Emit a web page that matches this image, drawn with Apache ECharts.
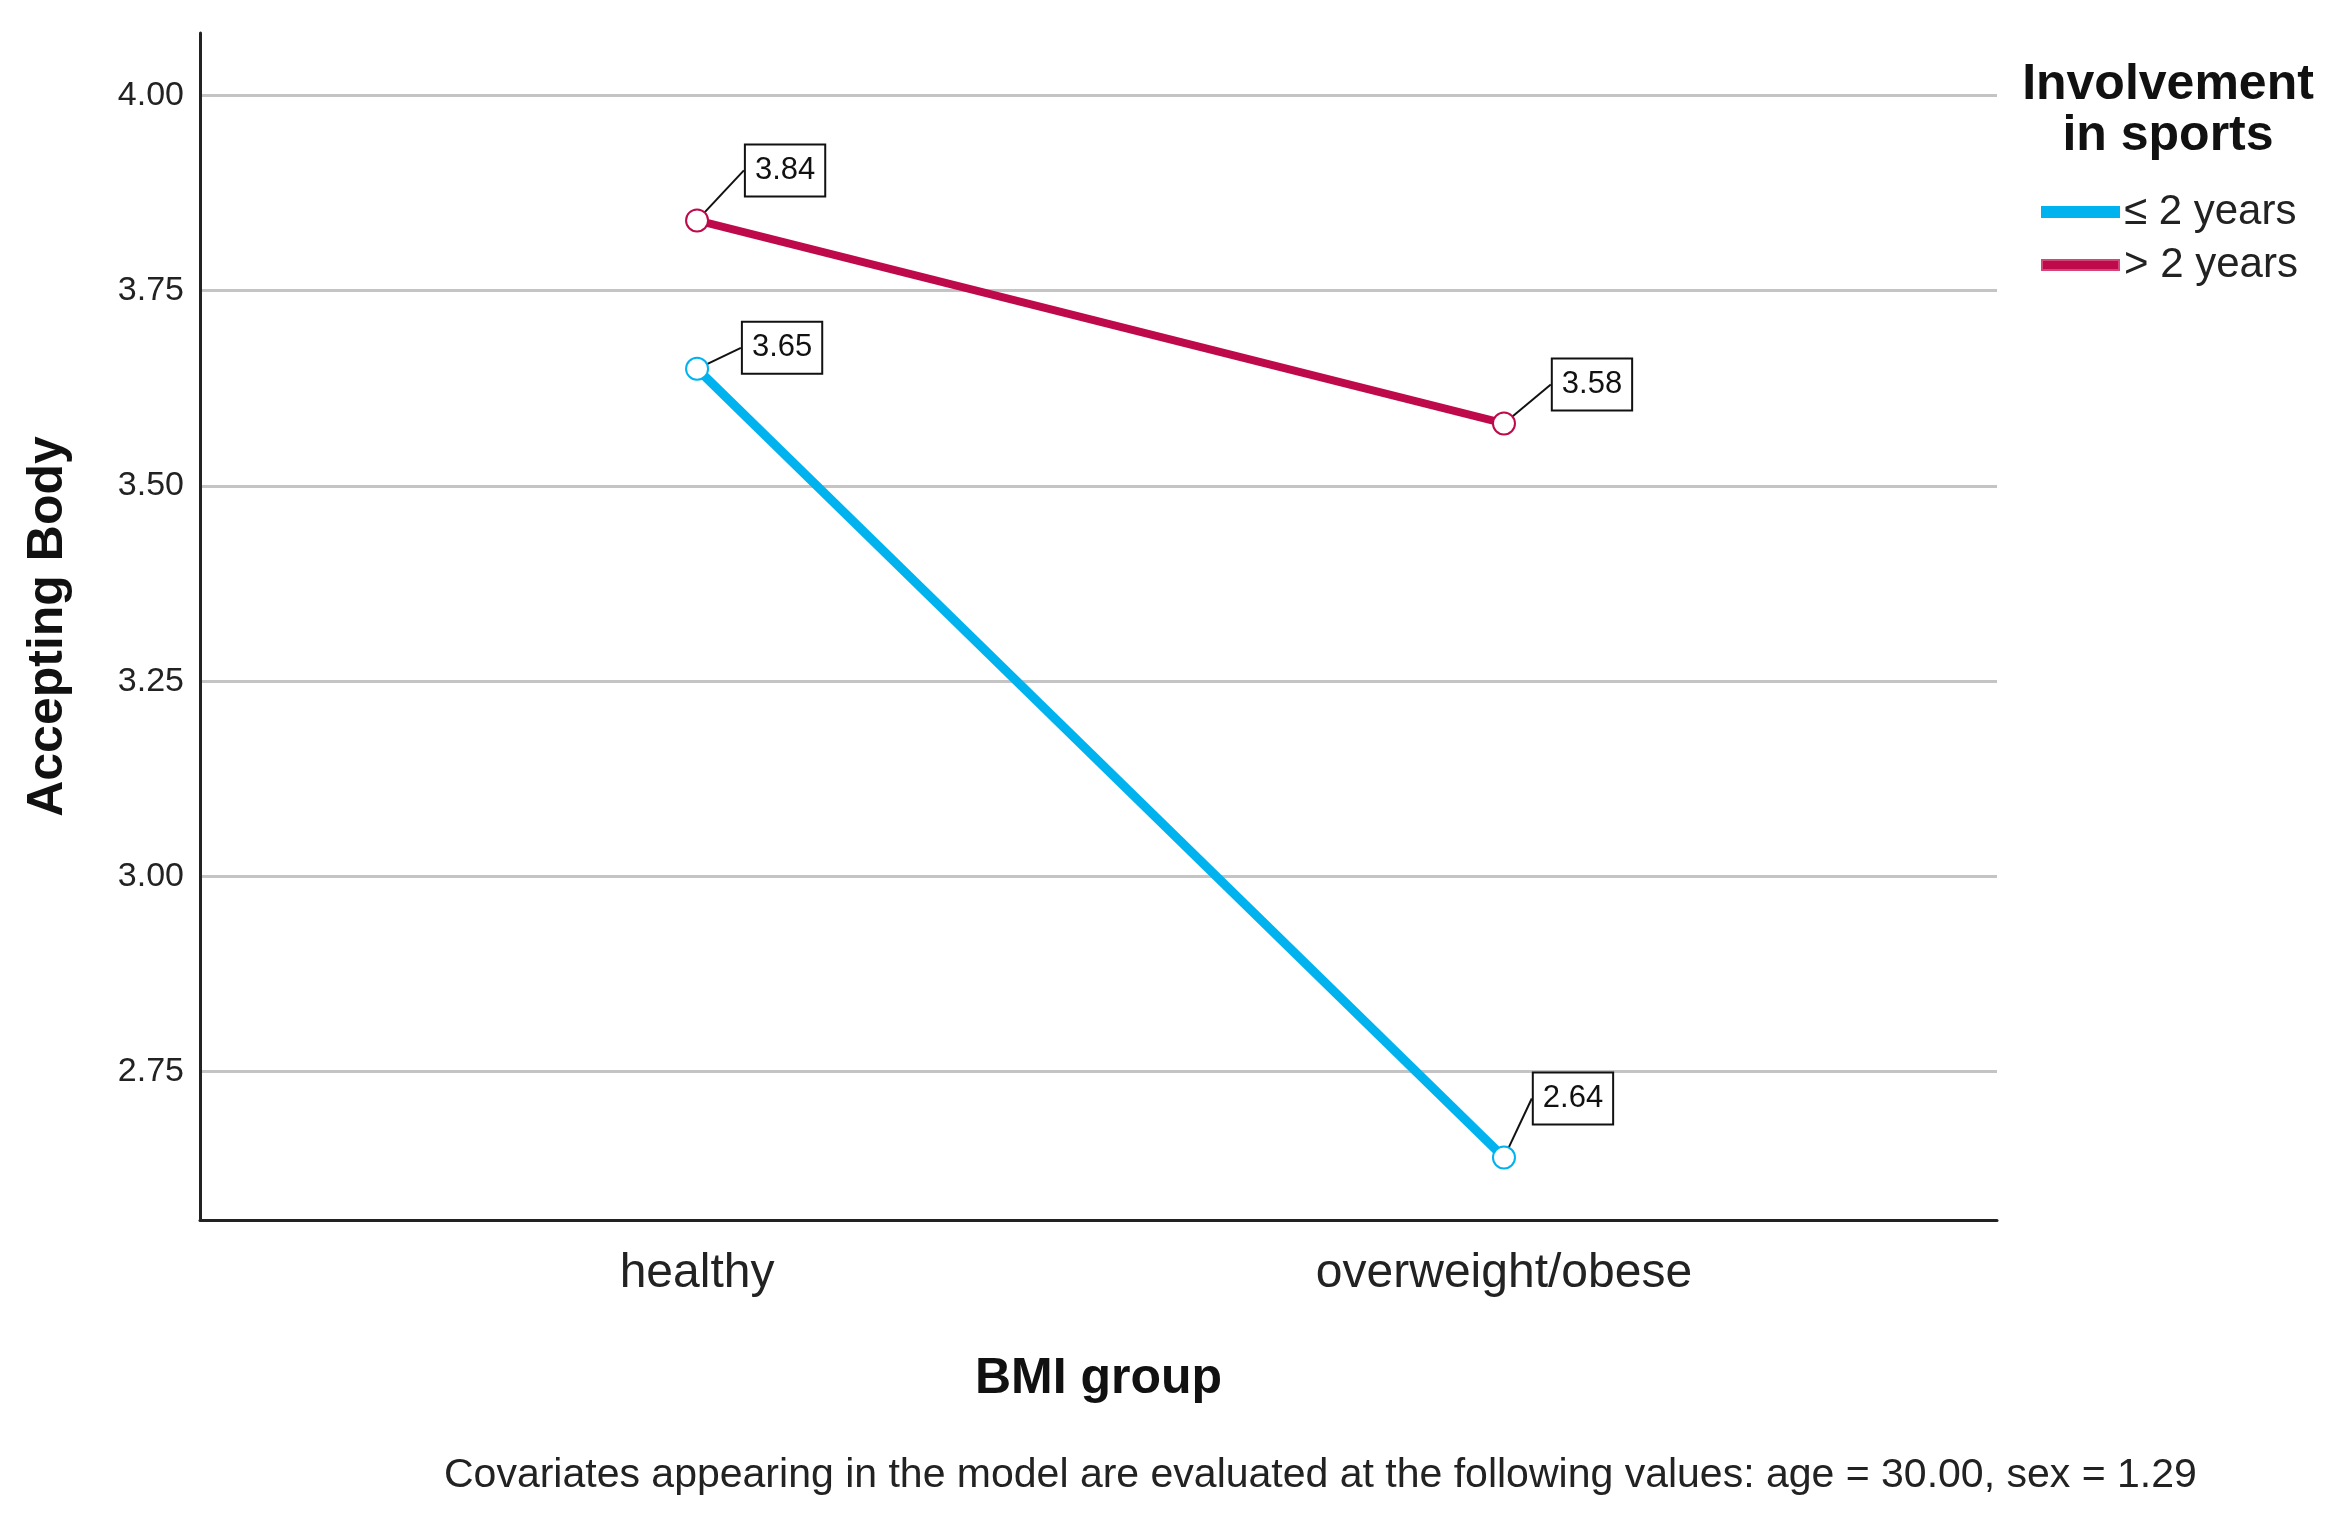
<!DOCTYPE html>
<html>
<head>
<meta charset="utf-8">
<script src="https://cdn.jsdelivr.net/npm/echarts@6/dist/echarts.min.js"></script>
<style>
html,body{margin:0;padding:0;background:#fff;}
#chart{width:2342px;height:1520px;}
</style>
</head>
<body>
<div id="chart"></div>
<script>
// ---- data ----
var categories = ['healthy', 'overweight/obese'];
var seriesNames = ['\u2264 2 years', '> 2 years'];
var le2Years = [3.65, 2.64];
var gt2Years = [3.84, 3.58];
var yTicks = [2.75, 3.00, 3.25, 3.50, 3.75, 4.00];
var xTitle = 'BMI group';
var yTitle = 'Accepting Body';
var legendTitle = 'Involvement\nin sports';
var footnote = 'Covariates appearing in the model are evaluated at the following values: age = 30.00, sex = 1.29';

var FONT = '"Liberation Sans", Arial, sans-serif';
var BLUE = '#00B2EE';
var RED = '#BE0A4A';

// label offsets [series][point]
var labelOffsets = [
  [[85, -21], [69, -59]],
  [[88, -50], [88, -39]]
];

function toPoints(vals) {
  return categories.map(function (c, i) { return [i, vals[i]]; });
}

var labelCfg = {
  show: true,
  position: 'inside',
  formatter: function (p) { return p.value[1].toFixed(2); },
  fontFamily: FONT,
  fontSize: 31,
  color: '#111',
  backgroundColor: '#fff',
  borderColor: '#111',
  borderWidth: 2,
  padding: [9, 9],
  lineHeight: 32
};

var chart = echarts.init(document.getElementById('chart'), null, {renderer: 'canvas'});
chart.setOption({
  animation: false,
  backgroundColor: '#fff',
  grid: {left: 200, right: 345, top: 33, bottom: 300},
  xAxis: {
    type: 'value',
    min: -0.616,
    max: 1.611,
    name: xTitle,
    nameLocation: 'middle',
    nameGap: 134,
    nameTextStyle: {fontFamily: FONT, fontSize: 50, fontWeight: 'bold', color: '#111'},
    axisLine: {show: true, onZero: false, lineStyle: {color: '#222', width: 3}},
    axisTick: {show: false, customValues: [0, 1]},
    splitLine: {show: false},
    axisLabel: {
      customValues: [0, 1],
      formatter: function (v) { return categories[Math.round(v)]; },
      fontFamily: FONT, fontSize: 48, color: '#222', margin: 30
    }
  },
  yAxis: {
    type: 'value',
    min: 2.56,
    max: 4.08,
    name: yTitle,
    nameLocation: 'middle',
    nameGap: 127,
    nameTextStyle: {fontFamily: FONT, fontSize: 50, fontWeight: 'bold', color: '#111'},
    axisLine: {show: true, onZero: false, lineStyle: {color: '#222', width: 3}},
    axisTick: {show: false, customValues: yTicks},
    splitLine: {show: true, lineStyle: {color: '#c4c4c4', width: 3}},
    axisLabel: {
      customValues: yTicks,
      formatter: function (v) { return v.toFixed(2); },
      fontFamily: FONT, fontSize: 34, color: '#222', margin: 16
    }
  },
  legend: {
    orient: 'vertical',
    left: 2036,
    top: 184,
    icon: 'rect',
    itemWidth: 77,
    itemHeight: 10,
    itemGap: 7,
    textStyle: {fontFamily: FONT, fontSize: 42, color: '#222', lineHeight: 46},
    data: seriesNames
  },
  graphic: [
    {
      type: 'text',
      left: 2168 - 150,
      top: 60,
      style: {
        text: legendTitle,
        x: 150,
        width: 300,
        align: 'center',
        textAlign: 'center',
        font: 'bold 50px ' + FONT,
        lineHeight: 51,
        fill: '#111'
      }
    },
    {
      type: 'text',
      left: 444,
      top: 1455,
      style: {
        text: footnote,
        font: '41px ' + FONT,
        fill: '#222'
      }
    }
  ],
  series: [
    {
      name: seriesNames[0],
      type: 'line',
      data: toPoints(le2Years),
      lineStyle: {color: BLUE, width: 9},
      itemStyle: {color: BLUE, borderColor: BLUE, borderWidth: 3},
      symbol: 'emptyCircle',
      symbolSize: 22,
      label: labelCfg,
      labelLine: {show: true, lineStyle: {color: '#111', width: 2}},
      labelLayout: function (p) {
        var o = labelOffsets[0][p.dataIndex];
        return {dx: o[0], dy: o[1]};
      }
    },
    {
      name: seriesNames[1],
      type: 'line',
      data: toPoints(gt2Years),
      lineStyle: {color: RED, width: 8},
      itemStyle: {color: RED, borderColor: '#D4467A', borderWidth: 3},
      symbol: 'emptyCircle',
      symbolSize: 22,
      label: labelCfg,
      labelLine: {show: true, lineStyle: {color: '#111', width: 2}},
      labelLayout: function (p) {
        var o = labelOffsets[1][p.dataIndex];
        return {dx: o[0], dy: o[1]};
      }
    }
  ]
});
</script>
</body>
</html>
